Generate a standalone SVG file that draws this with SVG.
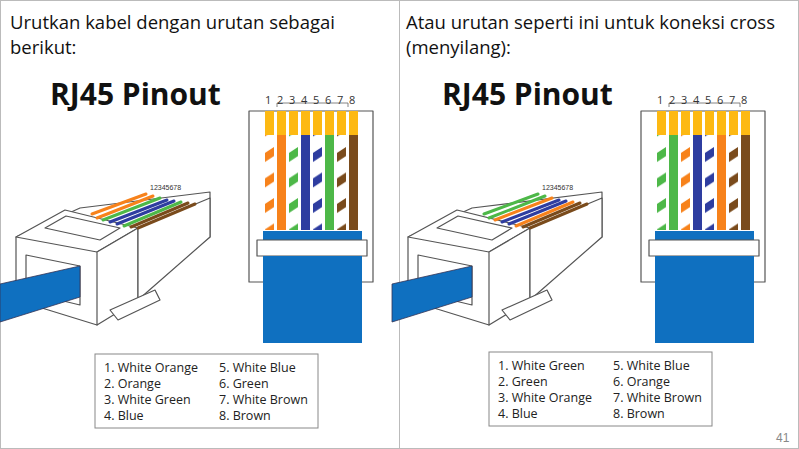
<svg xmlns="http://www.w3.org/2000/svg" xmlns:xlink="http://www.w3.org/1999/xlink" width="799" height="449" viewBox="0 0 799 449">
<style>
.t{font-family:"Open Sans","Liberation Sans",sans-serif;font-size:18.5px;fill:#111}
.h{font-family:"Open Sans","Liberation Sans",sans-serif;font-size:30px;font-weight:bold;fill:#111}
.n{font-family:"Open Sans","Liberation Sans",sans-serif;font-size:11px;fill:#333}
.l{font-family:"Open Sans","Liberation Sans",sans-serif;font-size:12.5px;fill:#222}
.b{fill:#fff;stroke:#555;stroke-width:1.2;stroke-linejoin:round}
.c{fill:#0f70c0;stroke:#335;stroke-width:0.8}
</style>
<defs>
<pattern id="po" patternUnits="userSpaceOnUse" x="265" y="147" width="12" height="25.5"><rect width="12" height="25.5" fill="#fff"/><polygon points="0,6 9,0 9,9 0,15" fill="#f7821b"/></pattern>
<pattern id="pg" patternUnits="userSpaceOnUse" x="265" y="147" width="12" height="25.5"><rect width="12" height="25.5" fill="#fff"/><polygon points="0,6 9,0 9,9 0,15" fill="#4db848"/></pattern>
<pattern id="pb" patternUnits="userSpaceOnUse" x="265" y="147" width="12" height="25.5"><rect width="12" height="25.5" fill="#fff"/><polygon points="0,6 9,0 9,9 0,15" fill="#2e3da0"/></pattern>
<pattern id="pn" patternUnits="userSpaceOnUse" x="265" y="147" width="12" height="25.5"><rect width="12" height="25.5" fill="#fff"/><polygon points="0,6 9,0 9,9 0,15" fill="#7a4b1c"/></pattern>
<g id="plug">
<text class="h" x="50" y="105">RJ45 Pinout</text>
<polygon class="b" points="107,310 210,237 210,192 80,208 16,237 16,300 97,325"/>
<polygon class="b" points="16,237 65,210 138,228 97,252"/>
<polygon class="b" points="97,252 138,228 138,300 97,325"/>
<polygon class="b" points="138,228 210,198 210,237 138,300"/>
<polygon class="b" points="110,310 155,290 160,300 118,320" fill="#f4f4f4"/>
<polygon class="b" points="45,228 66,216 120,228 100,240"/>
<polygon class="b" points="26,255 80,266 80,305 26,292"/>
<polygon class="c" points="0,284 80,266 80,297 0,322"/>
<rect class="b" x="249" y="111" width="124" height="171"/>
<rect x="263" y="231" width="99" height="9" fill="#0f70c0"/>
<rect class="b" x="257" y="240" width="110" height="16"/>
<rect x="263" y="256" width="99" height="87" fill="#0f70c0"/>
<path d="M277,107V103H348V107" fill="none" stroke="#666" stroke-width="0.8"/>
<g class="n"><text x="265" y="104">1</text><text x="277" y="104">2</text><text x="289" y="104">3</text><text x="301" y="104">4</text><text x="313" y="104">5</text><text x="325" y="104">6</text><text x="337" y="104">7</text><text x="349" y="104">8</text></g>
<g fill="#fdb913"><rect x="265" y="111" width="9" height="24"/><rect x="277" y="111" width="9" height="24"/><rect x="289" y="111" width="9" height="24"/><rect x="301" y="111" width="9" height="24"/><rect x="313" y="111" width="9" height="24"/><rect x="325" y="111" width="9" height="24"/><rect x="337" y="111" width="9" height="24"/><rect x="349" y="111" width="9" height="24"/></g>
</g>
</defs>
<rect width="799" height="449" fill="#fff"/>
<rect x="0.5" y="0.5" width="798" height="448" fill="none" stroke="#bbb"/>
<line x1="399.5" y1="0" x2="399.5" y2="449" stroke="#bbb"/>
<text class="t" x="10" y="29">Urutkan kabel dengan urutan sebagai</text>
<text class="t" x="10" y="54">berikut:</text>
<text class="t" x="406" y="29">Atau urutan seperti ini untuk koneksi cross</text>
<text class="t" x="406" y="54">(menyilang):</text>
<text x="776" y="442" style="font-family:'Liberation Sans',sans-serif;font-size:12px;fill:#888">41</text>

<g id="left">
<use xlink:href="#plug"/>
<g stroke-width="3" stroke-linecap="round">
<line x1="92" y1="214" x2="146" y2="194" stroke="#f7821b"/>
<line x1="97" y1="218" x2="153" y2="196" stroke="#f7821b"/>
<line x1="103" y1="220" x2="160" y2="198" stroke="#4db848"/>
<line x1="110" y1="222" x2="167" y2="200" stroke="#2e3da0"/>
<line x1="117" y1="224" x2="174" y2="201" stroke="#2e3da0"/>
<line x1="124" y1="226" x2="181" y2="202" stroke="#4db848"/>
<line x1="131" y1="227" x2="188" y2="203" stroke="#7a4b1c"/>
<line x1="138" y1="228" x2="195" y2="204" stroke="#7a4b1c"/>
</g>
<text x="150" y="190" style="font-family:'Liberation Sans',sans-serif;font-size:7px;fill:#333">12345678</text>
<rect x="265" y="135" width="9" height="95" fill="url(#po)"/>
<rect x="277" y="135" width="9" height="95" fill="#f7821b"/>
<rect x="289" y="135" width="9" height="95" fill="url(#pg)"/>
<rect x="301" y="135" width="9" height="95" fill="#2e3da0"/>
<rect x="313" y="135" width="9" height="95" fill="url(#pb)"/>
<rect x="325" y="135" width="9" height="95" fill="#4db848"/>
<rect x="337" y="135" width="9" height="95" fill="url(#pn)"/>
<rect x="349" y="135" width="9" height="95" fill="#7a4b1c"/>
<rect x="95" y="354" width="223" height="74" fill="#fff" stroke="#888"/>
<g class="l"><text x="104" y="372">1. White Orange</text><text x="104" y="388">2. Orange</text><text x="104" y="404">3. White Green</text><text x="104" y="420">4. Blue</text>
<text x="219" y="372">5. White Blue</text><text x="219" y="388">6. Green</text><text x="219" y="404">7. White Brown</text><text x="219" y="420">8. Brown</text></g>
</g>

<g id="right" transform="translate(392,0)">
<use xlink:href="#plug"/>
<g stroke-width="3" stroke-linecap="round">
<line x1="92" y1="214" x2="146" y2="194" stroke="#4db848"/>
<line x1="97" y1="218" x2="153" y2="196" stroke="#4db848"/>
<line x1="103" y1="220" x2="160" y2="198" stroke="#f7821b"/>
<line x1="110" y1="222" x2="167" y2="200" stroke="#2e3da0"/>
<line x1="117" y1="224" x2="174" y2="201" stroke="#2e3da0"/>
<line x1="124" y1="226" x2="181" y2="202" stroke="#f7821b"/>
<line x1="131" y1="227" x2="188" y2="203" stroke="#7a4b1c"/>
<line x1="138" y1="228" x2="195" y2="204" stroke="#7a4b1c"/>
</g>
<text x="150" y="190" style="font-family:'Liberation Sans',sans-serif;font-size:7px;fill:#333">12345678</text>
<rect x="265" y="135" width="9" height="95" fill="url(#pg)"/>
<rect x="277" y="135" width="9" height="95" fill="#4db848"/>
<rect x="289" y="135" width="9" height="95" fill="url(#po)"/>
<rect x="301" y="135" width="9" height="95" fill="#2e3da0"/>
<rect x="313" y="135" width="9" height="95" fill="url(#pb)"/>
<rect x="325" y="135" width="9" height="95" fill="#f7821b"/>
<rect x="337" y="135" width="9" height="95" fill="url(#pn)"/>
<rect x="349" y="135" width="9" height="95" fill="#7a4b1c"/>
<rect x="97" y="352" width="223" height="74" fill="#fff" stroke="#888"/>
<g class="l"><text x="106" y="370">1. White Green</text><text x="106" y="386">2. Green</text><text x="106" y="402">3. White Orange</text><text x="106" y="418">4. Blue</text>
<text x="221" y="370">5. White Blue</text><text x="221" y="386">6. Orange</text><text x="221" y="402">7. White Brown</text><text x="221" y="418">8. Brown</text></g>
</g>
</svg>
